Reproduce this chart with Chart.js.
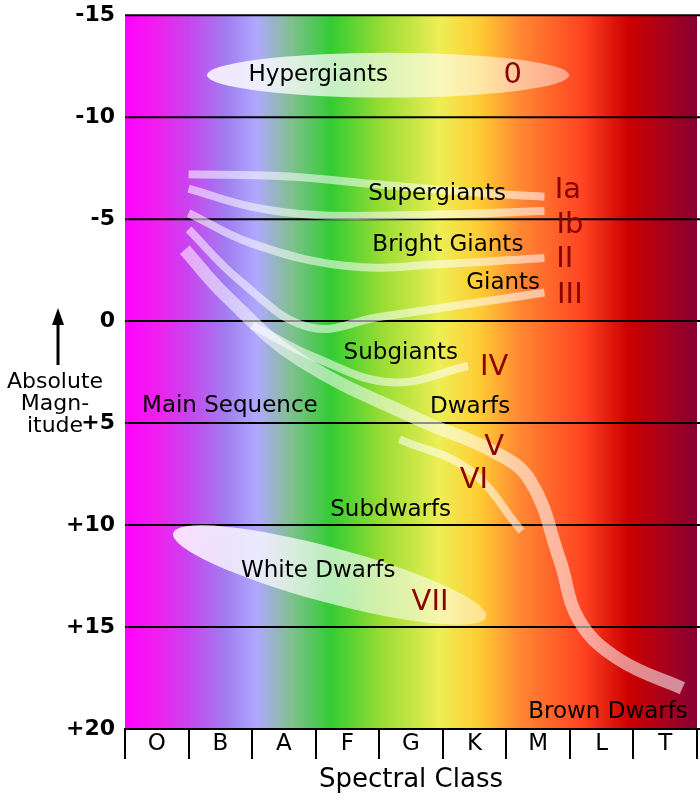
<!DOCTYPE html>
<html><head><meta charset="utf-8">
<script src="https://cdn.jsdelivr.net/npm/chart.js@4/dist/chart.umd.min.js"></script>
<style>body{margin:0;background:#fff}#w{width:700px;height:800px}</style>
</head><body><div id="w"><canvas id="c"></canvas></div>
<script>
const categories=['O','B','A','F','G','K','M','L','T'];
const yTicks=[-15,-10,-5,0,5,10,15,20];
const ia=[{x:1.0,y:-7.2},{x:2.5,y:-7.1},{x:4,y:-6.7},{x:5.5,y:-6.3},{x:6.6,y:-6.1}];
const ib=[{x:1.0,y:-6.5},{x:2,y:-5.6},{x:3,y:-5.2},{x:4.5,y:-5.2},{x:6.6,y:-5.4}];
const brightGiants=[{x:1,y:-5.3},{x:2,y:-3.8},{x:3.5,y:-2.7},{x:5,y:-2.8},{x:6.6,y:-3.1}];
const giants=[{x:1,y:-4.5},{x:1.8,y:-2},{x:2.9,y:0.3},{x:4,y:-0.2},{x:5.3,y:-0.8},{x:6.6,y:-1.4}];
const subgiants=[{x:2,y:0.2},{x:3,y:1.8},{x:4.2,y:3.0},{x:5.4,y:2.2}];
const mainSeq=[{x:0.94,y:-3.5},{x:1.6,y:-1.2},{x:2.75,y:1.9},{x:4.64,y:4.85},{x:5.74,y:6.3},{x:6.37,y:7.8},{x:6.84,y:11.7},{x:7.15,y:14.7},{x:7.78,y:16.6},{x:8.77,y:18}];
const subdwarfs=[{x:4.32,y:5.8},{x:5.42,y:7.3},{x:6.24,y:10.3}];
const hyperEllipse=[4.14,-12.06,2.85,1.1,0];
const whiteDwarfEllipse=[3.22,12.45,2.55,1.35,15];
const labels=[
['Hypergiants',3.04,-12.06,'#000',23],['0',6.10,-12.06,'#8b0000',29],
['Supergiants',4.91,-6.23,'#000',23],['Ia',6.97,-6.42,'#8b0000',29],
['Ib',7.0,-4.71,'#8b0000',29],['Bright Giants',5.08,-3.73,'#000',23],
['II',6.92,-3.0,'#8b0000',29],['Giants',5.95,-1.86,'#000',23],
['III',7.0,-1.27,'#8b0000',29],['Subgiants',4.34,1.57,'#000',23],
['IV',5.81,2.25,'#8b0000',29],['Main Sequence',1.65,4.17,'#000',23],
['Dwarfs',5.43,4.22,'#000',23],['V',5.81,6.18,'#8b0000',29],
['VI',5.49,7.79,'#8b0000',29],['Subdwarfs',4.18,9.26,'#000',23],
['White Dwarfs',3.04,12.25,'#000',23],['VII',4.80,13.82,'#8b0000',29],
['Brown Dwarfs',7.6,19.17,'#000',23]];
const F='"DejaVu Sans", sans-serif';
const band=(d,w)=>({data:d,xAxisID:'xd',borderColor:'rgba(255,255,255,0.55)',borderWidth:w,tension:0.4,pointRadius:0,fill:false,borderCapStyle:'butt'});
const bg={id:'bg',beforeDatasetsDraw(ch){
 const {ctx,chartArea:a}=ch;const xs=ch.scales.xd,ys=ch.scales.y;
 const g=ctx.createLinearGradient(a.left,0,a.right,0);
 const st=[[0,'#ff00ff'],[0.06,'#ee22ee'],[0.11,'#c844ee'],[0.18,'#a080f0'],[0.23,'#b0a8ff'],[0.29,'#80c090'],[0.36,'#33cc33'],[0.45,'#99dd33'],[0.55,'#eeee55'],[0.62,'#ffcc33'],[0.69,'#ff8833'],[0.8,'#ff4422'],[0.88,'#cc0000'],[1,'#880033']];
 st.forEach(s=>g.addColorStop(s[0],s[1]));
 ctx.save();ctx.fillStyle=g;ctx.fillRect(a.left,a.top,a.right-a.left,a.bottom-a.top);
 ctx.strokeStyle='#000';ctx.lineWidth=2;
 yTicks.forEach(v=>{const y=ys.getPixelForValue(v);ctx.beginPath();ctx.moveTo(a.left,y);ctx.lineTo(a.right+3,y);ctx.stroke();});
 [hyperEllipse,whiteDwarfEllipse].forEach(e=>{
  const cx=xs.getPixelForValue(e[0]),cy=ys.getPixelForValue(e[1]);
  const rx=xs.getPixelForValue(e[0]+e[2])-cx,ry=ys.getPixelForValue(e[1]+e[3])-cy;
  ctx.save();ctx.translate(cx,cy);ctx.rotate(e[4]*Math.PI/180);
  const eg=ctx.createLinearGradient(-rx,0,rx,0);eg.addColorStop(0,'rgba(255,255,255,0.85)');eg.addColorStop(1,'rgba(255,255,255,0.45)');
  ctx.fillStyle=eg;ctx.beginPath();ctx.ellipse(0,0,rx,ry,0,0,Math.PI*2);ctx.fill();ctx.restore();});
 ctx.restore();
},afterDatasetsDraw(ch){
 const {ctx}=ch;const xs=ch.scales.xd,ys=ch.scales.y;
 ctx.save();ctx.textAlign='center';ctx.textBaseline='middle';
 labels.forEach(l=>{ctx.fillStyle=l[3];ctx.font=l[4]+'px '+F;ctx.fillText(l[0],xs.getPixelForValue(l[1]),ys.getPixelForValue(l[2]));});
 ctx.fillStyle='#000';ctx.font='22px '+F;
 ctx.fillText('Absolute',55,382);ctx.fillText('Magn-',55,404);ctx.fillText('itude',55,426);
 ctx.strokeStyle='#000';ctx.lineWidth=3;ctx.beginPath();ctx.moveTo(58,365);ctx.lineTo(58,322);ctx.stroke();
 ctx.beginPath();ctx.moveTo(52,325);ctx.lineTo(58,308);ctx.lineTo(64,325);ctx.closePath();ctx.fill();
 ctx.restore();}};
new Chart(document.getElementById('c'),{type:'line',
 data:{labels:categories,datasets:[band(ia,8),band(ib,8),band(brightGiants,8),band(giants,8),band(subgiants,8),band(mainSeq,13),band(subdwarfs,8)]},
 options:{responsive:true,maintainAspectRatio:false,animation:false,
  layout:{padding:{top:15,right:3,left:0,bottom:0}},
  plugins:{legend:{display:false},tooltip:{enabled:false}},
  scales:{
   x:{type:'category',offset:true,afterFit(s){s.height=71;},grid:{offset:true,drawOnChartArea:false,color:'#000',lineWidth:2,tickLength:30},border:{color:'#000',width:2},
      ticks:{color:'#000',font:{family:F,size:23},padding:-29},
      title:{display:true,text:'Spectral Class',color:'#000',font:{family:F,size:26},padding:{top:0,bottom:4}}},
   xd:{type:'linear',min:0,max:9,display:false},
   y:{type:'linear',reverse:true,min:-15,max:20,afterFit(s){s.width=125;},afterBuildTicks(s){s.ticks=yTicks.map(v=>({value:v}));},
      grid:{display:false},border:{display:false},
      ticks:{color:'#000',font:{family:F,size:22,weight:'bold'},padding:2,callback:v=>v>0?'+'+v:String(v)}}
  }},plugins:[bg]});
</script></body></html>
